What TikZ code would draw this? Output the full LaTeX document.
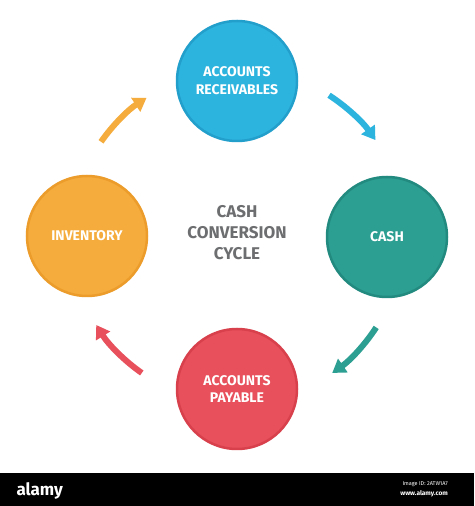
\documentclass[tikz,border=0pt]{standalone}
\usepackage{fontspec}
\setmainfont{Fira Sans}
\usetikzlibrary{arrows.meta,calc}
\definecolor{recvF}{HTML}{2DB4DE}
\definecolor{recvB}{HTML}{239FCC}
\definecolor{cashF}{HTML}{2C9E92}
\definecolor{cashB}{HTML}{238A80}
\definecolor{payF}{HTML}{E8505B}
\definecolor{payB}{HTML}{D8404C}
\definecolor{invF}{HTML}{F5AC3C}
\definecolor{invB}{HTML}{EC9C2A}
\definecolor{titleC}{HTML}{6D6E70}
\tikzset{
  stage/.style={circle, minimum size=120pt, inner sep=0pt, line width=2.5pt,
    text=white, align=center, font=\bfseries\fontsize{14}{17.7}\selectfont},
  flow/.style={line width=6pt, -{Triangle[width=16pt,length=13pt]}},
}
\begin{document}
\begin{tikzpicture}[x=1pt,y=1pt]
\useasboundingbox (0,0) rectangle (474,506);
\fill[white] (0,0) rectangle (474,506);
\fill[black] (0,0) rectangle (474,33);

\node[stage, fill=recvF, draw=recvB] (recv) at (237,425) {ACCOUNTS\\RECEIVABLES};
\node[stage, fill=cashF, draw=cashB] (cash) at (387,269) {CASH};
\node[stage, fill=payF, draw=payB] (pay) at (237,117) {ACCOUNTS\\PAYABLE};
\node[stage, fill=invF, draw=invB] (inv) at (87,270) {INVENTORY};

\node[text=titleC, align=center, font=\bfseries\fontsize{17}{21}\selectfont] (title) at (237,273.5) {CASH\\CONVERSION\\CYCLE};

\coordinate (c) at (237,269);
\coordinate (a1) at ($(c)+(145:166pt)$);
\coordinate (a2) at ($(c)+(57:169pt)$);
\coordinate (a3) at ($(c)+(-33:166pt)$);
\coordinate (a4) at ($(c)+(-125:166pt)$);
\draw[flow, draw=invF, fill=invF] (a1) arc[start angle=145, end angle=123, radius=166pt];
\draw[flow, draw=recvF, fill=recvF] (a2) arc[start angle=57, end angle=35, radius=169pt];
\draw[flow, draw=cashF, fill=cashF] (a3) arc[start angle=-33, end angle=-55, radius=166pt];
\draw[flow, draw=payF, fill=payF] (a4) arc[start angle=-125, end angle=-148, radius=166pt];

\node[text=white, font=\bfseries\fontsize{17}{17}\selectfont, anchor=west] (logo) at (13,15) {alamy};
\node[text=white, font=\fontsize{5.5}{6}\selectfont, anchor=east, inner sep=0pt] (imgid) at (448,22) {Image ID: 2ATW1A7};
\node[text=white, font=\bfseries\fontsize{6.5}{7}\selectfont, anchor=east, inner sep=0pt] (www) at (448,12) {www.alamy.com};
\end{tikzpicture}
\end{document}
